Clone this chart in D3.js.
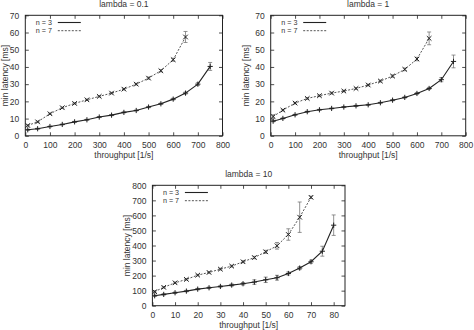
<!DOCTYPE html>
<html><head><meta charset="utf-8">
<script src="https://cdn.jsdelivr.net/npm/d3@7"></script>
<style>body{margin:0;background:#fff}svg{display:block}text{font-family:"Liberation Sans",Arial,sans-serif;fill:#333}</style>
</head><body>
<script>
// ---- data ----
const titles = ["lambda = 0.1", "lambda = 1", "lambda = 10"];
const seriesNames = ["n = 3", "n = 7"];
const xLabel = "throughput [1/s]";
const yLabel = "min latency [ms]";

const xTicksA = [0,100,200,300,400,500,600,700,800];
const yTicksA = [0,10,20,30,40,50,60,70];
const xTicksC = [0,10,20,30,40,50,60,70,80];
const yTicksC = [0,100,200,300,400,500,600,700,800];

// lambda = 0.1
const a_x3 = [10,50,100,150,200,250,300,350,400,450,500,550,600,650,700,750];
const a_y3 = [3.5,4.1,5.4,6.6,8.1,9.3,10.9,12.0,13.6,14.7,16.7,18.6,21.3,24.8,30.0,40.3];
const a_e3 = [0.3,0.3,0.3,0.3,0.3,0.3,0.3,0.3,0.3,0.3,0.4,0.4,0.5,0.6,0.8,2.3];
const a_x7 = [10,50,100,150,200,250,300,350,400,450,500,550,600,650];
const a_y7 = [6.0,8.1,12.8,16.3,18.8,20.9,22.9,24.8,27.1,30.0,33.5,37.8,44.2,57.4];
const a_e7 = [0.4,0.4,0.4,0.4,0.4,0.4,0.4,0.4,0.5,0.5,0.6,0.7,0.9,3.2];

// lambda = 1
const b_x3 = [10,50,100,150,200,250,300,350,400,450,500,550,600,650,700,750];
const b_y3 = [8.5,10.1,12.2,14.0,15.1,15.9,16.7,17.4,18.0,19.2,20.7,22.3,24.6,27.5,32.6,43.2];
const b_e3 = [0.4,0.3,0.3,0.3,0.3,0.3,0.3,0.3,0.3,0.3,0.4,0.4,0.5,0.6,1.2,3.7];
const b_x7 = [10,50,100,150,200,250,300,350,400,450,500,550,600,650];
const b_y7 = [11.2,14.9,19.0,21.7,23.3,24.8,26.0,27.5,29.5,31.8,34.7,38.6,44.6,56.6];
const b_e7 = [1.0,0.5,0.5,0.5,0.5,0.5,0.5,0.5,0.5,0.6,0.7,0.8,1.0,3.7];

// lambda = 10
const c_x3 = [1,5,10,15,20,25,30,35,40,45,50,55,60,65,70,75,80];
const c_y3 = [66,75,86,97,110,119,128,137,146,157,172,186,214,250,292,362,535];
const c_e3 = [5,5,5,5,5,5,6,7,8,15,18,16,10,10,10,33,68];
const c_x7 = [1,5,10,15,20,25,30,35,40,45,50,55,60,65,70];
const c_y7 = [93,122,152,175,203,221,243,263,292,320,358,398,473,588,720];
const c_e7 = [6,5,5,5,5,5,6,6,7,8,10,22,38,101,8];

const panels = [
  {title:titles[0], left:25.3, top:15.3, right:222.5, bottom:135.8, xd:[0,800], yd:[0,70], xt:xTicksA, yt:yTicksA,
   s3:{x:a_x3,y:a_y3,e:a_e3}, s7:{x:a_x7,y:a_y7,e:a_e7}, yLabX:5},
  {title:titles[1], left:270.7, top:15.3, right:465.7, bottom:135.8, xd:[0,800], yd:[0,70], xt:xTicksA, yt:yTicksA,
   s3:{x:b_x3,y:b_y3,e:b_e3}, s7:{x:b_x7,y:b_y7,e:b_e7}, yLabX:246},
  {title:titles[2], left:152.4, top:185.3, right:345, bottom:305.7, xd:[0,85], yd:[0,800], xt:xTicksC, yt:yTicksC,
   s3:{x:c_x3,y:c_y3,e:c_e3}, s7:{x:c_x7,y:c_y7,e:c_e7}, yLabX:127}
];

const W = 474, H = 330;
const svg = d3.select("body").append("svg").attr("width", W).attr("height", H);
const FS = 8.5;
const INK = "#222";
const TXT = "#333";

panels.forEach(p => {
  const g = svg.append("g");
  const x = d3.scaleLinear().domain(p.xd).range([p.left, p.right]);
  const y = d3.scaleLinear().domain(p.yd).range([p.bottom, p.top]);
  const tl = 3.5;

  // ticks (inward, mirrored)
  const xAxB = d3.axisBottom(x).tickValues(p.xt).tickSizeInner(-tl).tickSizeOuter(0).tickPadding(6);
  const xAxT = d3.axisTop(x).tickValues(p.xt).tickSizeInner(-tl).tickSizeOuter(0).tickFormat("");
  const yAxL = d3.axisLeft(y).tickValues(p.yt).tickSizeInner(-tl).tickSizeOuter(0).tickPadding(6);
  const yAxR = d3.axisRight(y).tickValues(p.yt).tickSizeInner(-tl).tickSizeOuter(0).tickFormat("");
  [[xAxB,`translate(0,${p.bottom})`],[xAxT,`translate(0,${p.top})`],[yAxL,`translate(${p.left},0)`],[yAxR,`translate(${p.right},0)`]].forEach(([ax,tr])=>{
    const a = g.append("g").attr("transform", tr).call(ax);
    a.select(".domain").remove();
    a.selectAll("line").attr("stroke", INK).attr("stroke-width", 0.8);
    a.selectAll("text").attr("font-size", FS).style("font-family", '"Liberation Sans",Arial,sans-serif').attr("fill", TXT);
  });
  // frame
  g.append("rect").attr("x", p.left).attr("y", p.top).attr("width", p.right - p.left).attr("height", p.bottom - p.top)
    .attr("fill", "none").attr("stroke", INK).attr("stroke-width", 1);

  // title & labels
  const cx = (p.left + p.right) / 2;
  g.append("text").attr("x", cx).attr("y", p.top - 8).attr("text-anchor", "middle").attr("font-size", FS).text(p.title);
  g.append("text").attr("x", cx).attr("y", p.bottom + 22).attr("text-anchor", "middle").attr("font-size", FS).text(xLabel);
  g.append("text").attr("transform", `translate(${p.yLabX + 3},${(p.top + p.bottom) / 2}) rotate(-90)`)
    .attr("text-anchor", "middle").attr("font-size", FS).text(yLabel);

  const line = d3.line().x(d => x(d[0])).y(d => y(d[1]));
  const drawSeries = (s, dash, marker) => {
    const pts = s.x.map((v, i) => [v, s.y[i], s.e[i]]);
    // error bars
    pts.forEach(d => {
      const x0 = x(d[0]), y1 = y(d[1] + d[2]), y2 = y(d[1] - d[2]);
      g.append("line").attr("x1", x0).attr("x2", x0).attr("y1", y1).attr("y2", y2).attr("stroke", "#777").attr("stroke-width", 0.8);
      [y1, y2].forEach(yy => g.append("line").attr("x1", x0 - 2).attr("x2", x0 + 2).attr("y1", yy).attr("y2", yy).attr("stroke", "#777").attr("stroke-width", 0.8));
    });
    g.append("path").datum(pts).attr("d", line).attr("fill", "none").attr("stroke", dash ? "#555" : "#222")
      .attr("stroke-width", dash ? 1 : 1.1).attr("stroke-dasharray", dash ? "2,1.5" : null);
    const sz = marker === "x" ? 2.3 : 2.6;
    pts.forEach(d => {
      const px = x(d[0]), py = y(d[1]);
      const sym = marker === "x"
        ? `M${px-sz},${py-sz}L${px+sz},${py+sz}M${px-sz},${py+sz}L${px+sz},${py-sz}`
        : `M${px-sz},${py}L${px+sz},${py}M${px},${py-sz}L${px},${py+sz}`;
      g.append("path").attr("d", sym).attr("stroke", "#222").attr("stroke-width", 1).attr("fill", "none");
    });
  };
  drawSeries(p.s3, false, "+");
  drawSeries(p.s7, true, "x");

  // legend
  const LFS = 7.2;
  const lx = p.left + 10.5, ly1 = p.top + 7.2, ly2 = p.top + 15.4;
  g.append("text").attr("x", lx).attr("y", ly1 + 2.6).attr("font-size", LFS).text(seriesNames[0]);
  g.append("text").attr("x", lx).attr("y", ly2 + 2.6).attr("font-size", LFS).text(seriesNames[1]);
  g.append("line").attr("x1", lx + 22).attr("x2", lx + 45).attr("y1", ly1).attr("y2", ly1).attr("stroke", "#222").attr("stroke-width", 1.1);
  g.append("line").attr("x1", lx + 22).attr("x2", lx + 45).attr("y1", ly2).attr("y2", ly2).attr("stroke", "#555").attr("stroke-width", 1).attr("stroke-dasharray", "2,1.5");
});
</script>
</body></html>
